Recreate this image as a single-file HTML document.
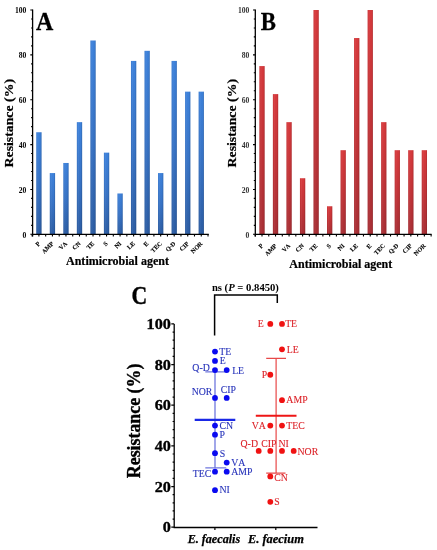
<!DOCTYPE html><html><head><meta charset="utf-8"><style>html,body{margin:0;padding:0;background:#fff;}svg{display:block;filter:blur(0.3px);}</style></head><body>
<svg width="437" height="550" viewBox="0 0 437 550" font-family="'Liberation Serif', 'DejaVu Serif', serif">
<defs>
<linearGradient id="gb" x1="0" x2="0" y1="0" y2="1"><stop offset="0" stop-color="#3d82dc"/><stop offset="0.5" stop-color="#3773c6"/><stop offset="1" stop-color="#2c5da4"/></linearGradient>
<linearGradient id="gr" x1="0" x2="0" y1="0" y2="1"><stop offset="0" stop-color="#d8393c"/><stop offset="0.5" stop-color="#c33337"/><stop offset="1" stop-color="#a92f35"/></linearGradient>
<linearGradient id="gh" x1="0" x2="1" y1="0" y2="0"><stop offset="0" stop-color="#000" stop-opacity="0.06"/><stop offset="0.3" stop-color="#fff" stop-opacity="0.05"/><stop offset="0.7" stop-color="#000" stop-opacity="0"/><stop offset="1" stop-color="#000" stop-opacity="0.16"/></linearGradient>
</defs>
<rect width="437" height="550" fill="#fff"/>
<rect x="36.25" y="132.24" width="5.3" height="102.06" fill="url(#gb)"/><rect x="36.25" y="132.24" width="5.3" height="102.06" fill="url(#gh)"/>
<rect x="49.78" y="173.07" width="5.3" height="61.23" fill="url(#gb)"/><rect x="49.78" y="173.07" width="5.3" height="61.23" fill="url(#gh)"/>
<rect x="63.31" y="162.97" width="5.3" height="71.33" fill="url(#gb)"/><rect x="63.31" y="162.97" width="5.3" height="71.33" fill="url(#gh)"/>
<rect x="76.84" y="122.15" width="5.3" height="112.15" fill="url(#gb)"/><rect x="76.84" y="122.15" width="5.3" height="112.15" fill="url(#gh)"/>
<rect x="90.37" y="40.5" width="5.3" height="193.8" fill="url(#gb)"/><rect x="90.37" y="40.5" width="5.3" height="193.8" fill="url(#gh)"/>
<rect x="103.9" y="152.65" width="5.3" height="81.65" fill="url(#gb)"/><rect x="103.9" y="152.65" width="5.3" height="81.65" fill="url(#gh)"/>
<rect x="117.43" y="193.48" width="5.3" height="40.82" fill="url(#gb)"/><rect x="117.43" y="193.48" width="5.3" height="40.82" fill="url(#gh)"/>
<rect x="130.96" y="60.92" width="5.3" height="173.38" fill="url(#gb)"/><rect x="130.96" y="60.92" width="5.3" height="173.38" fill="url(#gh)"/>
<rect x="144.49" y="50.82" width="5.3" height="183.48" fill="url(#gb)"/><rect x="144.49" y="50.82" width="5.3" height="183.48" fill="url(#gh)"/>
<rect x="158.02" y="173.07" width="5.3" height="61.23" fill="url(#gb)"/><rect x="158.02" y="173.07" width="5.3" height="61.23" fill="url(#gh)"/>
<rect x="171.55" y="60.92" width="5.3" height="173.38" fill="url(#gb)"/><rect x="171.55" y="60.92" width="5.3" height="173.38" fill="url(#gh)"/>
<rect x="185.08" y="91.65" width="5.3" height="142.65" fill="url(#gb)"/><rect x="185.08" y="91.65" width="5.3" height="142.65" fill="url(#gh)"/>
<rect x="198.61" y="91.65" width="5.3" height="142.65" fill="url(#gb)"/><rect x="198.61" y="91.65" width="5.3" height="142.65" fill="url(#gh)"/>
<path d="M32.6 9.6V236.6M32.1 234.3H208.8" stroke="#000" stroke-width="1.3" fill="none"/>
<path d="M30.3 234.3H32.6M31.1 225.33H32.6M31.1 216.36H32.6M31.1 207.38H32.6M31.1 198.41H32.6M30.3 189.44H32.6M31.1 180.47H32.6M31.1 171.5H32.6M31.1 162.52H32.6M31.1 153.55H32.6M30.3 144.58H32.6M31.1 135.61H32.6M31.1 126.64H32.6M31.1 117.66H32.6M31.1 108.69H32.6M30.3 99.72H32.6M31.1 90.75H32.6M31.1 81.78H32.6M31.1 72.8H32.6M31.1 63.83H32.6M30.3 54.86H32.6M31.1 45.89H32.6M31.1 36.92H32.6M31.1 27.94H32.6M31.1 18.97H32.6M30.3 10H32.6M32.13 234.3V236.5M38.9 234.3V236.5M45.66 234.3V236.5M52.43 234.3V236.5M59.2 234.3V236.5M65.96 234.3V236.5M72.72 234.3V236.5M79.49 234.3V236.5M86.25 234.3V236.5M93.02 234.3V236.5M99.78 234.3V236.5M106.55 234.3V236.5M113.31 234.3V236.5M120.08 234.3V236.5M126.84 234.3V236.5M133.61 234.3V236.5M140.37 234.3V236.5M147.14 234.3V236.5M153.9 234.3V236.5M160.67 234.3V236.5M167.43 234.3V236.5M174.2 234.3V236.5M180.96 234.3V236.5M187.73 234.3V236.5M194.49 234.3V236.5M201.26 234.3V236.5M208.02 234.3V236.5" stroke="#000" stroke-width="1.1" fill="none"/>
<text x="26.4" y="237.5" text-anchor="end" font-size="7.6" font-weight="bold" fill="#000">0</text>
<text x="26.4" y="192.64" text-anchor="end" font-size="7.6" font-weight="bold" fill="#000">20</text>
<text x="26.4" y="147.78" text-anchor="end" font-size="7.6" font-weight="bold" fill="#000">40</text>
<text x="26.4" y="102.92" text-anchor="end" font-size="7.6" font-weight="bold" fill="#000">60</text>
<text x="26.4" y="58.06" text-anchor="end" font-size="7.6" font-weight="bold" fill="#000">80</text>
<text x="26.4" y="13.2" text-anchor="end" font-size="7.6" font-weight="bold" fill="#000">100</text>
<text transform="translate(40.6 244) rotate(-45)" text-anchor="end" font-size="6.2" font-weight="bold" stroke="#000" stroke-width="0.12" style="font-kerning:none">P</text>
<text transform="translate(54.13 244) rotate(-45)" text-anchor="end" font-size="6.2" font-weight="bold" stroke="#000" stroke-width="0.12" style="font-kerning:none">AMP</text>
<text transform="translate(67.66 244) rotate(-45)" text-anchor="end" font-size="6.2" font-weight="bold" stroke="#000" stroke-width="0.12" style="font-kerning:none">VA</text>
<text transform="translate(81.19 244) rotate(-45)" text-anchor="end" font-size="6.2" font-weight="bold" stroke="#000" stroke-width="0.12" style="font-kerning:none">CN</text>
<text transform="translate(94.72 244) rotate(-45)" text-anchor="end" font-size="6.2" font-weight="bold" stroke="#000" stroke-width="0.12" style="font-kerning:none">TE</text>
<text transform="translate(108.25 244) rotate(-45)" text-anchor="end" font-size="6.2" font-weight="bold" stroke="#000" stroke-width="0.12" style="font-kerning:none">S</text>
<text transform="translate(121.78 244) rotate(-45)" text-anchor="end" font-size="6.2" font-weight="bold" stroke="#000" stroke-width="0.12" style="font-kerning:none">NI</text>
<text transform="translate(135.31 244) rotate(-45)" text-anchor="end" font-size="6.2" font-weight="bold" stroke="#000" stroke-width="0.12" style="font-kerning:none">LE</text>
<text transform="translate(148.84 244) rotate(-45)" text-anchor="end" font-size="6.2" font-weight="bold" stroke="#000" stroke-width="0.12" style="font-kerning:none">E</text>
<text transform="translate(162.37 244) rotate(-45)" text-anchor="end" font-size="6.2" font-weight="bold" stroke="#000" stroke-width="0.12" style="font-kerning:none">TEC</text>
<text transform="translate(175.9 244) rotate(-45)" text-anchor="end" font-size="6.2" font-weight="bold" stroke="#000" stroke-width="0.12" style="font-kerning:none">Q-D</text>
<text transform="translate(189.43 244) rotate(-45)" text-anchor="end" font-size="6.2" font-weight="bold" stroke="#000" stroke-width="0.12" style="font-kerning:none">CIP</text>
<text transform="translate(202.96 244) rotate(-45)" text-anchor="end" font-size="6.2" font-weight="bold" stroke="#000" stroke-width="0.12" style="font-kerning:none">NOR</text>
<text x="36" y="29.7" font-size="25.3" font-weight="bold" stroke="#000" stroke-width="0.3" textLength="17.3" lengthAdjust="spacingAndGlyphs">A</text>
<text x="66" y="265.2" font-size="12.6" font-weight="bold" stroke="#000" stroke-width="0.2" textLength="103" lengthAdjust="spacingAndGlyphs">Antimicrobial agent</text>
<rect x="259.35" y="66.08" width="5.3" height="168.22" fill="url(#gr)"/><rect x="259.35" y="66.08" width="5.3" height="168.22" fill="url(#gh)"/>
<rect x="272.88" y="94.11" width="5.3" height="140.19" fill="url(#gr)"/><rect x="272.88" y="94.11" width="5.3" height="140.19" fill="url(#gh)"/>
<rect x="286.41" y="122.15" width="5.3" height="112.15" fill="url(#gr)"/><rect x="286.41" y="122.15" width="5.3" height="112.15" fill="url(#gh)"/>
<rect x="299.94" y="178.23" width="5.3" height="56.07" fill="url(#gr)"/><rect x="299.94" y="178.23" width="5.3" height="56.07" fill="url(#gh)"/>
<rect x="313.47" y="10" width="5.3" height="224.3" fill="url(#gr)"/><rect x="313.47" y="10" width="5.3" height="224.3" fill="url(#gh)"/>
<rect x="327" y="206.26" width="5.3" height="28.04" fill="url(#gr)"/><rect x="327" y="206.26" width="5.3" height="28.04" fill="url(#gh)"/>
<rect x="340.53" y="150.19" width="5.3" height="84.11" fill="url(#gr)"/><rect x="340.53" y="150.19" width="5.3" height="84.11" fill="url(#gh)"/>
<rect x="354.06" y="38.04" width="5.3" height="196.26" fill="url(#gr)"/><rect x="354.06" y="38.04" width="5.3" height="196.26" fill="url(#gh)"/>
<rect x="367.59" y="10" width="5.3" height="224.3" fill="url(#gr)"/><rect x="367.59" y="10" width="5.3" height="224.3" fill="url(#gh)"/>
<rect x="381.12" y="122.15" width="5.3" height="112.15" fill="url(#gr)"/><rect x="381.12" y="122.15" width="5.3" height="112.15" fill="url(#gh)"/>
<rect x="394.65" y="150.19" width="5.3" height="84.11" fill="url(#gr)"/><rect x="394.65" y="150.19" width="5.3" height="84.11" fill="url(#gh)"/>
<rect x="408.18" y="150.19" width="5.3" height="84.11" fill="url(#gr)"/><rect x="408.18" y="150.19" width="5.3" height="84.11" fill="url(#gh)"/>
<rect x="421.71" y="150.19" width="5.3" height="84.11" fill="url(#gr)"/><rect x="421.71" y="150.19" width="5.3" height="84.11" fill="url(#gh)"/>
<path d="M255.3 9.6V236.6M254.8 234.3H431.6" stroke="#000" stroke-width="1.3" fill="none"/>
<path d="M253 234.3H255.3M253.8 225.33H255.3M253.8 216.36H255.3M253.8 207.38H255.3M253.8 198.41H255.3M253 189.44H255.3M253.8 180.47H255.3M253.8 171.5H255.3M253.8 162.52H255.3M253.8 153.55H255.3M253 144.58H255.3M253.8 135.61H255.3M253.8 126.64H255.3M253.8 117.66H255.3M253.8 108.69H255.3M253 99.72H255.3M253.8 90.75H255.3M253.8 81.78H255.3M253.8 72.8H255.3M253.8 63.83H255.3M253 54.86H255.3M253.8 45.89H255.3M253.8 36.92H255.3M253.8 27.94H255.3M253.8 18.97H255.3M253 10H255.3M255.24 234.3V236.5M262 234.3V236.5M268.76 234.3V236.5M275.53 234.3V236.5M282.29 234.3V236.5M289.06 234.3V236.5M295.82 234.3V236.5M302.59 234.3V236.5M309.35 234.3V236.5M316.12 234.3V236.5M322.88 234.3V236.5M329.65 234.3V236.5M336.41 234.3V236.5M343.18 234.3V236.5M349.94 234.3V236.5M356.71 234.3V236.5M363.47 234.3V236.5M370.24 234.3V236.5M377 234.3V236.5M383.77 234.3V236.5M390.53 234.3V236.5M397.3 234.3V236.5M404.06 234.3V236.5M410.83 234.3V236.5M417.59 234.3V236.5M424.36 234.3V236.5M431.12 234.3V236.5" stroke="#000" stroke-width="1.1" fill="none"/>
<text x="249.4" y="237.5" text-anchor="end" font-size="7.6" font-weight="bold" fill="#333">0</text>
<text x="249.4" y="192.64" text-anchor="end" font-size="7.6" font-weight="bold" fill="#333">20</text>
<text x="249.4" y="147.78" text-anchor="end" font-size="7.6" font-weight="bold" fill="#333">40</text>
<text x="249.4" y="102.92" text-anchor="end" font-size="7.6" font-weight="bold" fill="#333">60</text>
<text x="249.4" y="58.06" text-anchor="end" font-size="7.6" font-weight="bold" fill="#333">80</text>
<text x="249.4" y="13.2" text-anchor="end" font-size="7.6" font-weight="bold" fill="#333">100</text>
<text transform="translate(263.7 246.2) rotate(-45)" text-anchor="end" font-size="6.2" font-weight="bold" stroke="#000" stroke-width="0.12" style="font-kerning:none">P</text>
<text transform="translate(277.23 246.2) rotate(-45)" text-anchor="end" font-size="6.2" font-weight="bold" stroke="#000" stroke-width="0.12" style="font-kerning:none">AMP</text>
<text transform="translate(290.76 246.2) rotate(-45)" text-anchor="end" font-size="6.2" font-weight="bold" stroke="#000" stroke-width="0.12" style="font-kerning:none">VA</text>
<text transform="translate(304.29 246.2) rotate(-45)" text-anchor="end" font-size="6.2" font-weight="bold" stroke="#000" stroke-width="0.12" style="font-kerning:none">CN</text>
<text transform="translate(317.82 246.2) rotate(-45)" text-anchor="end" font-size="6.2" font-weight="bold" stroke="#000" stroke-width="0.12" style="font-kerning:none">TE</text>
<text transform="translate(331.35 246.2) rotate(-45)" text-anchor="end" font-size="6.2" font-weight="bold" stroke="#000" stroke-width="0.12" style="font-kerning:none">S</text>
<text transform="translate(344.88 246.2) rotate(-45)" text-anchor="end" font-size="6.2" font-weight="bold" stroke="#000" stroke-width="0.12" style="font-kerning:none">NI</text>
<text transform="translate(358.41 246.2) rotate(-45)" text-anchor="end" font-size="6.2" font-weight="bold" stroke="#000" stroke-width="0.12" style="font-kerning:none">LE</text>
<text transform="translate(371.94 246.2) rotate(-45)" text-anchor="end" font-size="6.2" font-weight="bold" stroke="#000" stroke-width="0.12" style="font-kerning:none">E</text>
<text transform="translate(385.47 246.2) rotate(-45)" text-anchor="end" font-size="6.2" font-weight="bold" stroke="#000" stroke-width="0.12" style="font-kerning:none">TEC</text>
<text transform="translate(399 246.2) rotate(-45)" text-anchor="end" font-size="6.2" font-weight="bold" stroke="#000" stroke-width="0.12" style="font-kerning:none">Q-D</text>
<text transform="translate(412.53 246.2) rotate(-45)" text-anchor="end" font-size="6.2" font-weight="bold" stroke="#000" stroke-width="0.12" style="font-kerning:none">CIP</text>
<text transform="translate(426.06 246.2) rotate(-45)" text-anchor="end" font-size="6.2" font-weight="bold" stroke="#000" stroke-width="0.12" style="font-kerning:none">NOR</text>
<text x="260.8" y="29.7" font-size="25.3" font-weight="bold" stroke="#000" stroke-width="0.3" textLength="15.2" lengthAdjust="spacingAndGlyphs">B</text>
<text x="289.3" y="268" font-size="12.6" font-weight="bold" stroke="#000" stroke-width="0.2" textLength="103" lengthAdjust="spacingAndGlyphs">Antimicrobial agent</text>
<text transform="translate(12.5 123.2) rotate(-90)" text-anchor="middle" font-size="12.5" font-weight="bold" stroke="#000" stroke-width="0.2" textLength="88.5" lengthAdjust="spacingAndGlyphs">Resistance (%)</text>
<text transform="translate(235.9 123.2) rotate(-90)" text-anchor="middle" font-size="12.5" font-weight="bold" stroke="#000" stroke-width="0.2" textLength="88.5" lengthAdjust="spacingAndGlyphs">Resistance (%)</text>
<path d="M174.2 323.9V527.5H317.5" stroke="#000" stroke-width="1.3" fill="none"/>
<path d="M171.3 527.2H174.2M172.6 519.07H174.2M172.6 510.94H174.2M172.6 502.8H174.2M172.6 494.67H174.2M171.3 486.54H174.2M172.6 478.41H174.2M172.6 470.28H174.2M172.6 462.14H174.2M172.6 454.01H174.2M171.3 445.88H174.2M172.6 437.75H174.2M172.6 429.62H174.2M172.6 421.48H174.2M172.6 413.35H174.2M171.3 405.22H174.2M172.6 397.09H174.2M172.6 388.96H174.2M172.6 380.82H174.2M172.6 372.69H174.2M171.3 364.56H174.2M172.6 356.43H174.2M172.6 348.3H174.2M172.6 340.16H174.2M172.6 332.03H174.2M171.3 323.9H174.2M214.9 527.5V530.1M275.8 527.5V530.1" stroke="#000" stroke-width="1.2" fill="none"/>
<text x="170.9" y="532.2" text-anchor="end" font-size="13.6" font-weight="bold" stroke="#000" stroke-width="0.3" textLength="8.1" lengthAdjust="spacingAndGlyphs">0</text>
<text x="170.9" y="491.54" text-anchor="end" font-size="13.6" font-weight="bold" stroke="#000" stroke-width="0.3" textLength="16.2" lengthAdjust="spacingAndGlyphs">20</text>
<text x="170.9" y="450.88" text-anchor="end" font-size="13.6" font-weight="bold" stroke="#000" stroke-width="0.3" textLength="16.2" lengthAdjust="spacingAndGlyphs">40</text>
<text x="170.9" y="410.22" text-anchor="end" font-size="13.6" font-weight="bold" stroke="#000" stroke-width="0.3" textLength="16.2" lengthAdjust="spacingAndGlyphs">60</text>
<text x="170.9" y="369.56" text-anchor="end" font-size="13.6" font-weight="bold" stroke="#000" stroke-width="0.3" textLength="16.2" lengthAdjust="spacingAndGlyphs">80</text>
<text x="170.9" y="328.9" text-anchor="end" font-size="13.6" font-weight="bold" stroke="#000" stroke-width="0.3" textLength="24.3" lengthAdjust="spacingAndGlyphs">100</text>
<text x="131.4" y="303.9" font-size="26" font-weight="bold" stroke="#000" stroke-width="0.4" textLength="15.7" lengthAdjust="spacingAndGlyphs">C</text>
<text transform="translate(140.1 420.9) rotate(-90)" text-anchor="middle" font-size="18" font-weight="bold" stroke="#000" stroke-width="0.35" textLength="114.5" lengthAdjust="spacingAndGlyphs">Resistance (%)</text>
<path d="M214.6 335.4V295.1H277.3V303" stroke="#000" stroke-width="1.5" fill="none"/>
<text x="211.9" y="291" font-size="9.6" font-weight="bold" textLength="67" lengthAdjust="spacingAndGlyphs">ns (<tspan font-style="italic">P</tspan> = 0.8450)</text>
<text x="213.9" y="542.5" text-anchor="middle" font-size="12" font-weight="bold" font-style="italic" stroke="#000" stroke-width="0.25" textLength="52.5" lengthAdjust="spacingAndGlyphs">E. faecalis</text>
<text x="275.9" y="542.5" text-anchor="middle" font-size="12" font-weight="bold" font-style="italic" stroke="#000" stroke-width="0.25" textLength="56" lengthAdjust="spacingAndGlyphs">E. faecium</text>
<path d="M215.0 371.9V467.78M205.3 371.9H226.2M205.3 467.78H226.2" stroke="#7078de" stroke-width="1.3" fill="none"/>
<path d="M194.7 419.84H235.3" stroke="#1a28e6" stroke-width="2.1" fill="none"/>
<circle cx="215.0" cy="351.55" r="2.9" fill="#0a0af0"/>
<circle cx="215.0" cy="360.9" r="2.9" fill="#0a0af0"/>
<circle cx="215.0" cy="370.05" r="2.9" fill="#0a0af0"/>
<circle cx="226.7" cy="370.05" r="2.9" fill="#0a0af0"/>
<circle cx="215.0" cy="397.9" r="2.9" fill="#0a0af0"/>
<circle cx="226.7" cy="397.9" r="2.9" fill="#0a0af0"/>
<circle cx="215.0" cy="425.55" r="2.9" fill="#0a0af0"/>
<circle cx="215.0" cy="434.7" r="2.9" fill="#0a0af0"/>
<circle cx="215.0" cy="453.2" r="2.9" fill="#0a0af0"/>
<circle cx="226.7" cy="462.55" r="2.9" fill="#0a0af0"/>
<circle cx="215.0" cy="471.7" r="2.9" fill="#0a0af0"/>
<circle cx="226.7" cy="471.7" r="2.9" fill="#0a0af0"/>
<circle cx="215.0" cy="490.2" r="2.9" fill="#0a0af0"/>
<text x="219.25" y="355" font-size="9.8" fill="#2632ba" stroke="#2632ba" style="font-kerning:none" stroke-width="0.1">TE</text>
<text x="219.75" y="364.2" font-size="9.8" fill="#2632ba" stroke="#2632ba" style="font-kerning:none" stroke-width="0.1">E</text>
<text x="192.35" y="370.8" font-size="9.8" fill="#2632ba" stroke="#2632ba" style="font-kerning:none" stroke-width="0.1">Q-D</text>
<text x="232.15" y="373.8" font-size="9.8" fill="#2632ba" stroke="#2632ba" style="font-kerning:none" stroke-width="0.1">LE</text>
<text x="191.65" y="395.3" font-size="9.8" fill="#2632ba" stroke="#2632ba" style="font-kerning:none" stroke-width="0.1">NOR</text>
<text x="220.75" y="393.3" font-size="9.8" fill="#2632ba" stroke="#2632ba" style="font-kerning:none" stroke-width="0.1">CIP</text>
<text x="219.55" y="429" font-size="9.8" fill="#2632ba" stroke="#2632ba" style="font-kerning:none" stroke-width="0.1">CN</text>
<text x="219.55" y="438" font-size="9.8" fill="#2632ba" stroke="#2632ba" style="font-kerning:none" stroke-width="0.1">P</text>
<text x="219.75" y="456.5" font-size="9.8" fill="#2632ba" stroke="#2632ba" style="font-kerning:none" stroke-width="0.1">S</text>
<text x="231.25" y="465.8" font-size="9.8" fill="#2632ba" stroke="#2632ba" style="font-kerning:none" stroke-width="0.1">VA</text>
<text x="192.75" y="477.1" font-size="9.8" fill="#2632ba" stroke="#2632ba" style="font-kerning:none" stroke-width="0.1">TEC</text>
<text x="231.25" y="475.2" font-size="9.8" fill="#2632ba" stroke="#2632ba" style="font-kerning:none" stroke-width="0.1">AMP</text>
<text x="219.55" y="493.3" font-size="9.8" fill="#2632ba" stroke="#2632ba" style="font-kerning:none" stroke-width="0.1">NI</text>
<path d="M276.1 358.44V473.1M266.2 358.44H286M266.2 473.1H285.5" stroke="#e84848" stroke-width="1.2" fill="none"/>
<path d="M255.8 415.77H296.5" stroke="#ee1515" stroke-width="2.1" fill="none"/>
<circle cx="270.3" cy="323.9" r="2.9" fill="#f01212"/>
<circle cx="282.0" cy="323.9" r="2.9" fill="#f01212"/>
<circle cx="282.0" cy="349.31" r="2.9" fill="#f01212"/>
<circle cx="270.3" cy="374.73" r="2.9" fill="#f01212"/>
<circle cx="282.0" cy="400.14" r="2.9" fill="#f01212"/>
<circle cx="270.3" cy="425.55" r="2.9" fill="#f01212"/>
<circle cx="282.0" cy="425.55" r="2.9" fill="#f01212"/>
<circle cx="258.7" cy="450.96" r="2.9" fill="#f01212"/>
<circle cx="270.3" cy="450.96" r="2.9" fill="#f01212"/>
<circle cx="282.0" cy="450.96" r="2.9" fill="#f01212"/>
<circle cx="293.7" cy="450.96" r="2.9" fill="#f01212"/>
<circle cx="270.3" cy="476.38" r="2.9" fill="#f01212"/>
<circle cx="270.3" cy="501.79" r="2.9" fill="#f01212"/>
<text x="257.65" y="326.9" font-size="9.8" fill="#dc2228" stroke="#dc2228" style="font-kerning:none" stroke-width="0.1">E</text>
<text x="285.15" y="326.9" font-size="9.8" fill="#dc2228" stroke="#dc2228" style="font-kerning:none" stroke-width="0.1">TE</text>
<text x="286.75" y="352.7" font-size="9.8" fill="#dc2228" stroke="#dc2228" style="font-kerning:none" stroke-width="0.1">LE</text>
<text x="261.75" y="378.1" font-size="9.8" fill="#dc2228" stroke="#dc2228" style="font-kerning:none" stroke-width="0.1">P</text>
<text x="286.35" y="403.4" font-size="9.8" fill="#dc2228" stroke="#dc2228" style="font-kerning:none" stroke-width="0.1">AMP</text>
<text x="251.65" y="429.3" font-size="9.8" fill="#dc2228" stroke="#dc2228" style="font-kerning:none" stroke-width="0.1">VA</text>
<text x="286.25" y="428.9" font-size="9.8" fill="#dc2228" stroke="#dc2228" style="font-kerning:none" stroke-width="0.1">TEC</text>
<text x="240.55" y="447.3" font-size="9.8" fill="#dc2228" stroke="#dc2228" style="font-kerning:none" stroke-width="0.1">Q-D</text>
<text x="261.15" y="447.3" font-size="9.8" fill="#dc2228" stroke="#dc2228" style="font-kerning:none" stroke-width="0.1">CIP</text>
<text x="278.45" y="447.3" font-size="9.8" fill="#dc2228" stroke="#dc2228" style="font-kerning:none" stroke-width="0.1">NI</text>
<text x="297.55" y="454.7" font-size="9.8" fill="#dc2228" stroke="#dc2228" style="font-kerning:none" stroke-width="0.1">NOR</text>
<text x="274.25" y="481.3" font-size="9.8" fill="#dc2228" stroke="#dc2228" style="font-kerning:none" stroke-width="0.1">CN</text>
<text x="274.25" y="505.1" font-size="9.8" fill="#dc2228" stroke="#dc2228" style="font-kerning:none" stroke-width="0.1">S</text>
</svg></body></html>
